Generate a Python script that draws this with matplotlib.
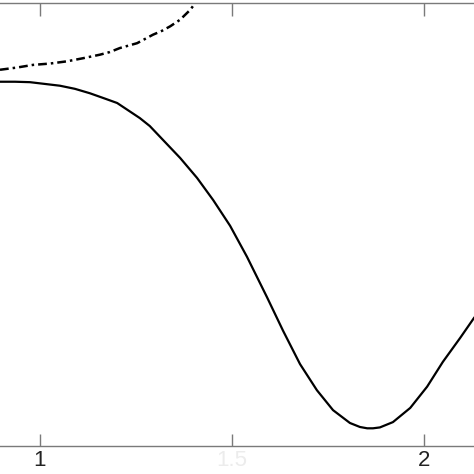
import numpy as np
import matplotlib.pyplot as plt

plt.rcParams['font.family'] = ['Liberation Sans', 'DejaVu Sans']

# solid branch
x_solid = [0.896, 0.935, 0.974, 1.013, 1.052, 1.091, 1.130, 1.169, 1.201, 1.234,
           1.260, 1.286, 1.320, 1.365, 1.409, 1.451, 1.495, 1.539, 1.591, 1.633,
           1.677, 1.721, 1.763, 1.807, 1.833, 1.852, 1.867, 1.885, 1.919, 1.964,
           2.008, 2.049, 2.094, 2.130]
y_solid = [0.822, 0.822, 0.821, 0.817, 0.813, 0.806, 0.796, 0.784, 0.774, 0.755,
           0.740, 0.722, 0.691, 0.650, 0.605, 0.555, 0.497, 0.427, 0.336, 0.260,
           0.185, 0.126, 0.081, 0.052, 0.043, 0.040, 0.040, 0.042, 0.054, 0.086,
           0.134, 0.190, 0.244, 0.289]

# dash-dot branch
x_dash = [0.896, 0.940, 0.982, 1.026, 1.070, 1.112, 1.156, 1.182, 1.208, 1.253,
          1.294, 1.318, 1.339, 1.365, 1.391, 1.404, 1.414]
y_dash = [0.849, 0.854, 0.860, 0.863, 0.868, 0.875, 0.883, 0.889, 0.898, 0.909,
          0.928, 0.937, 0.947, 0.962, 0.984, 0.999, 1.014]

xticks = [1, 1.5, 2]
xticklabels = ["1", "1.5", "2"]

fig = plt.figure(figsize=(4.74, 4.74), dpi=100)
ax = fig.add_axes([0, 0.059, 1, 0.935])

ax.plot(x_solid, y_solid, color="black", lw=1.6, solid_joinstyle="round")
ax.plot(x_dash, y_dash, color="black", lw=1.8, linestyle=(0, (3.5, 1.6, 1.0, 1.6)))

ax.set_xlim(0.896, 2.130)
ax.set_ylim(0, 1)

ax.spines['left'].set_visible(False)
ax.spines['right'].set_visible(False)
for s in ['top', 'bottom']:
    ax.spines[s].set_color("#7a7a7a")
    ax.spines[s].set_linewidth(1.0)

ax.set_xticks(xticks)
ax.set_xticklabels(xticklabels)
ax.set_yticks([])
ax.tick_params(axis='x', direction='in', top=True, length=9, width=1.0,
               color="#7a7a7a", labelsize=16, pad=3.0, labelcolor="#222222")
ax.get_xticklabels()[1].set_color("#ececec")

fig.savefig("out.png", dpi=100)
